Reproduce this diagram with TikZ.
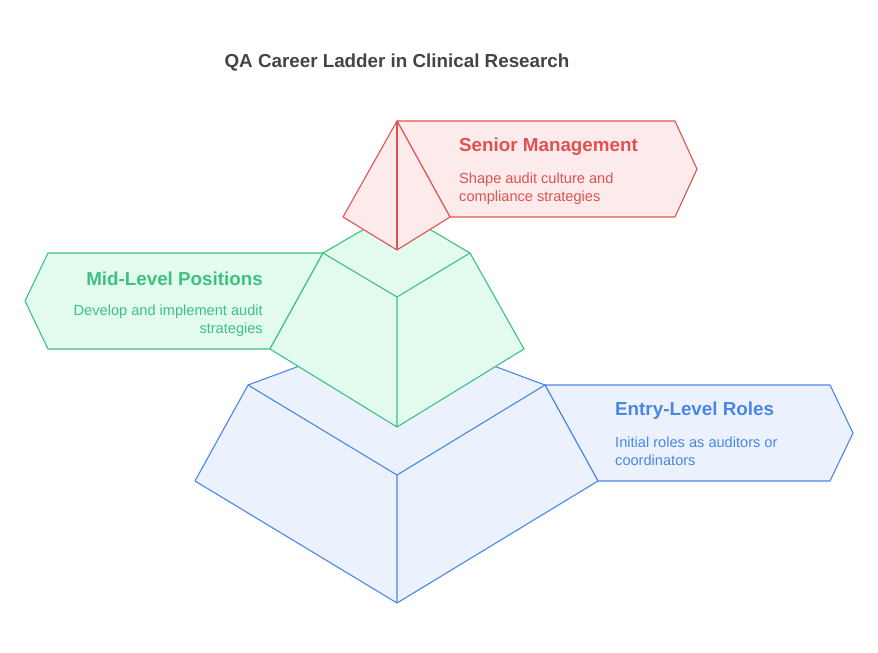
\documentclass[tikz,border=0pt]{standalone}
\usepackage{fontspec}
\setmainfont{Liberation Sans}
\definecolor{bluel}{HTML}{4A86E8}
\definecolor{bluef}{HTML}{ECF2FD}
\definecolor{greenl}{HTML}{3CC280}
\definecolor{greenf}{HTML}{E3FBEF}
\definecolor{redl}{HTML}{E05252}
\definecolor{redf}{HTML}{FDEBEB}
\definecolor{titlec}{HTML}{444444}
\tikzset{
  heading/.style = {font=\fontsize{18.8}{22}\selectfont\bfseries, inner sep=0pt},
  body/.style = {font=\fontsize{14.6}{18}\selectfont, inner sep=0pt},
  piece/.style = {line width=1.1pt, line join=round}
}
\begin{document}
\begin{tikzpicture}[x=1pt, y=-1pt]
        \useasboundingbox (0,0) rectangle (878,653);
        \node[font=\fontsize{18.8}{22}\selectfont\bfseries, text=titlec] (title) at (397,63) {QA Career Ladder in Clinical Research};

        % ------------------------------------------------------------------------
        % Entry level
        \draw[piece, draw=bluel, fill=bluef]
          (545,385) -- (830,385) -- (853,433) -- (830,481) -- (598,481) -- cycle;
        \draw[piece, draw=bluel, fill=bluef]
          (248,385) -- (397,330) -- (545,385) -- (598,481) -- (397,603) -- (195,481) -- cycle;
        \draw[piece, draw=bluel]
          (248,385) -- (397,475) -- (545,385)
          (397,475) -- (397,603);
        \node[heading, text=bluel, anchor=west] (entry) at (615,411) {Entry-Level Roles};
        \node[body, text=bluel, anchor=north west, align=left] (entrytext) at (615,437)
          {Initial roles as auditors or\\coordinators};

        % ------------------------------------------------------------------------
        % Mid level
        \draw[piece, draw=greenl, fill=greenf]
          (323,253) -- (48,253) -- (25,301) -- (48,349) -- (270,349) -- cycle;
        \draw[piece, draw=greenl, fill=greenf]
          (323,253) -- (397,210) -- (470,253) -- (524,349) -- (397,427) -- (270,349) -- cycle;
        \draw[piece, draw=greenl]
          (323,253) -- (397,297) -- (470,253)
          (397,297) -- (397,427);
        \node[heading, text=greenl, anchor=east] (mid) at (263,279) {Mid-Level Positions};
        \node[body, text=greenl, anchor=north east, align=right] (midtext) at (263,305)
          {Develop and implement audit\\strategies};

        % ------------------------------------------------------------------------
        % Senior
        \draw[piece, draw=redl, fill=redf]
          (397,121) -- (675,121) -- (697,169) -- (675,217) -- (450,217) -- cycle;
        \draw[piece, draw=redl, fill=redf]
          (397,121) -- (450,217) -- (397,250) -- (343,217) -- cycle;
        \draw[piece, draw=redl]
          (397,121) -- (397,250);
        \node[heading, text=redl, anchor=west] (senior) at (459,147) {Senior Management};
        \node[body, text=redl, anchor=north west, align=left] (seniortext) at (459,173)
          {Shape audit culture and\\compliance strategies};
\end{tikzpicture}
\end{document}
